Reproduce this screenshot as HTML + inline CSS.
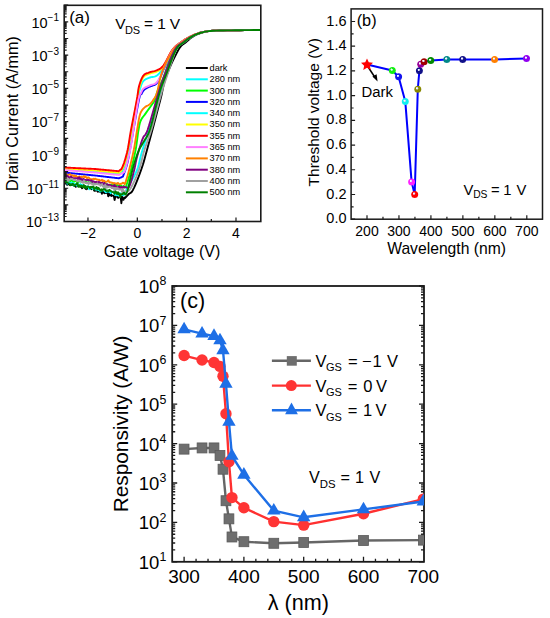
<!DOCTYPE html><html><head><meta charset="utf-8"><style>html,body{margin:0;padding:0;background:#fff;width:550px;height:618px;overflow:hidden;position:relative}</style></head><body><svg width="550" height="618" viewBox="0 0 550 618" style="position:absolute;left:0;top:0">
<defs><clipPath id="ca"><rect x="64.2" y="5.3" width="196.6" height="216.2"/></clipPath></defs>
<g clip-path="url(#ca)" fill="none" stroke-width="1.9" stroke-linejoin="round">
<path d="M64,182.72 L64.79,183.72 L65.58,182.33 L66.36,183.27 L67.15,184.79 L67.94,184.1 L68.73,182.2 L69.52,185.09 L70.3,182.51 L71.09,182.62 L71.88,185 L72.67,184.78 L73.45,185.33 L74.24,185.59 L75.03,185.93 L75.82,186.79 L76.61,185.3 L77.39,185.72 L78.18,185.52 L78.97,185.13 L79.76,185.46 L80.55,186.76 L81.33,186.72 L82.12,188.24 L82.91,186.89 L83.7,186.28 L84.48,185.75 L85.27,188.39 L86.06,189.22 L86.85,188.22 L87.64,188.66 L88.42,187.51 L89.21,187.29 L90,187.93 L90.79,187.15 L91.59,189.2 L92.38,187.11 L93.18,186.66 L93.97,190.39 L94.76,190.88 L95.56,190.32 L96.35,190.52 L97.15,190.5 L97.94,191.78 L98.74,189.63 L99.53,191.58 L100.32,191.94 L101.12,190.93 L101.91,193.84 L102.71,190.22 L103.5,192.34 L104.29,193.25 L105.09,192.68 L105.88,193.01 L106.68,190.69 L107.47,192.27 L108.26,196.26 L109.06,192.7 L109.85,195.38 L110.65,192.87 L111.44,195.97 L112.24,195.6 L113.03,195.41 L113.82,195.96 L114.62,199.94 L115.41,196.17 L116.21,196.27 L117,196.66 L117.73,197.69 L118.45,197.83 L119.18,196.09 L119.91,196.77 L120.64,196.72 L121.36,203.22 L122.09,196.67 L122.82,199.63 L123.55,199.77 L124.27,197.53 L125,198 L125.39,197.58 L125.93,197.01 L126.57,196.33 L127.28,195.58 L128,194.82 L128.7,194.1 L129.35,193.57 L129.98,193.24 L130.63,192.89 L131.34,192.32 L132.15,191.32 L133.1,189.7 L134.25,187.31 L135.58,184.28 L137.01,180.82 L138.46,177.16 L139.85,173.48 L141.1,170 L142.12,167.03 L142.95,164.47 L143.72,161.89 L144.56,158.9 L145.61,155.07 L147,150 L148.88,143.09 L151.17,134.54 L153.68,125.17 L156.17,115.76 L158.45,107.1 L160.3,100 L161.59,94.69 L162.45,90.58 L163.1,87.23 L163.74,84.2 L164.57,81.03 L165.8,77.3 L167.54,72.79 L169.63,67.82 L171.92,62.72 L174.24,57.83 L176.42,53.47 L178.3,50 L179.84,47.55 L181.17,45.9 L182.37,44.78 L183.5,43.96 L184.65,43.18 L185.88,42.2 L187.18,41.05 L188.48,39.92 L189.8,38.84 L191.14,37.82 L192.5,36.87 L193.9,36 L195.33,35.21 L196.78,34.5 L198.26,33.86 L199.77,33.28 L201.33,32.76 L202.92,32.3 L204.44,31.91 L205.86,31.6 L207.32,31.35 L208.96,31.14 L210.91,30.97 L213.32,30.8 L216.25,30.66 L219.59,30.55 L223.25,30.47 L227.13,30.41 L231.12,30.36 L235.12,30.3 L239.5,30.23 L244.4,30.17 L249.42,30.12 L254.14,30.07 L258.14,30.03 L261,30" stroke="#000000"/>
<path d="M64,181.19 L64.79,182.03 L65.58,181.99 L66.36,181.37 L67.15,183.72 L67.94,182.27 L68.73,182.56 L69.52,182.23 L70.3,183.13 L71.09,183.17 L71.88,182.64 L72.67,181.71 L73.45,185.58 L74.24,183.72 L75.03,184.12 L75.82,184.73 L76.61,185.6 L77.39,183.73 L78.18,184.87 L78.97,184.65 L79.76,185.39 L80.55,184.07 L81.33,185.67 L82.12,185.01 L82.91,185.25 L83.7,186.52 L84.48,186.42 L85.27,186.76 L86.06,186.74 L86.85,186.37 L87.64,186.56 L88.42,186.54 L89.21,189.34 L90,187.68 L90.79,188.45 L91.59,187.58 L92.38,188.26 L93.18,188.89 L93.97,188.02 L94.76,188.43 L95.56,189.54 L96.35,188.76 L97.15,190.01 L97.94,189.11 L98.74,190.2 L99.53,189.79 L100.32,191.55 L101.12,190.42 L101.91,190.44 L102.71,189.83 L103.5,189.74 L104.29,190.75 L105.09,191.42 L105.88,192.23 L106.68,190.63 L107.47,191.54 L108.26,191.54 L109.06,191.85 L109.85,191.74 L110.65,193.13 L111.44,192.57 L112.24,191.78 L113.03,191.76 L113.82,193.01 L114.62,194.48 L115.41,194.66 L116.21,195.31 L117,195 L117.78,195.19 L118.56,195.5 L119.33,195.98 L120.11,193.16 L120.89,193.79 L121.67,195.03 L122.44,194.93 L123.22,195.19 L124,194.5 L124.43,193.66 L124.98,192.57 L125.66,191.25 L126.45,189.7 L127.37,187.95 L128.4,186 L129.64,183.81 L131.1,181.37 L132.69,178.72 L134.29,175.91 L135.79,172.98 L137.1,170 L138.07,167.25 L138.75,164.74 L139.34,162.12 L140.04,159.04 L141.02,155.12 L142.5,150 L144.7,142.96 L147.51,134.15 L150.62,124.5 L153.7,114.96 L156.43,106.48 L158.5,100 L159.8,95.81 L160.56,93.22 L160.97,91.69 L161.22,90.67 L161.5,89.62 L162,88 L162.64,86.03 L163.25,84.19 L163.89,82.31 L164.61,80.26 L165.46,77.87 L166.5,75 L167.79,71.33 L169.29,66.92 L170.93,62.18 L172.62,57.5 L174.27,53.31 L175.8,50 L177.2,47.69 L178.54,46.07 L179.84,44.92 L181.14,44.04 L182.46,43.21 L183.85,42.2 L185.29,41.05 L186.77,39.92 L188.27,38.84 L189.8,37.82 L191.35,36.87 L192.9,36 L194.46,35.21 L196.03,34.5 L197.62,33.86 L199.23,33.28 L200.87,32.76 L202.54,32.3 L204.12,31.91 L205.6,31.6 L207.1,31.35 L208.77,31.14 L210.75,30.97 L213.19,30.8 L216.14,30.66 L219.5,30.55 L223.17,30.47 L227.06,30.41 L231.06,30.36 L235.07,30.3 L239.46,30.23 L244.37,30.17 L249.4,30.12 L254.13,30.07 L258.13,30.03 L261,30" stroke="#00FFFF"/>
<path d="M64,179.64 L64.79,180 L65.59,179.18 L66.38,179.59 L67.18,179.44 L67.97,179.53 L68.77,180.35 L69.56,178.84 L70.36,181.05 L71.15,180.52 L71.95,179.44 L72.74,181 L73.54,181.23 L74.33,181.56 L75.13,180.9 L75.92,180.94 L76.72,181.99 L77.51,181.54 L78.31,181.96 L79.1,181.69 L79.9,180.86 L80.69,181.51 L81.49,181.45 L82.28,181.82 L83.08,181.88 L83.87,181.93 L84.67,181.67 L85.46,182.31 L86.26,181.7 L87.05,182.6 L87.85,182.99 L88.64,182.36 L89.44,181.23 L90.23,182.64 L91.03,182.02 L91.82,182.88 L92.62,181.98 L93.41,182.79 L94.21,183.29 L95,182.33 L95.78,183 L96.56,183.32 L97.34,183.26 L98.12,183 L98.91,184.01 L99.69,182.72 L100.47,183.68 L101.25,184.16 L102.03,183.48 L102.81,184.07 L103.59,183.68 L104.38,184.02 L105.16,184.2 L105.94,184.33 L106.72,184.07 L107.5,185.02 L108.28,185.06 L109.06,184.95 L109.84,184.85 L110.62,185.53 L111.41,184.54 L112.19,184.41 L112.97,184.5 L113.75,186.52 L114.53,185.25 L115.31,185.32 L116.09,184.97 L116.88,185.05 L117.66,185.14 L118.44,185.73 L119.22,186.21 L120,185.42 L120.75,186.24 L121.5,185.86 L122.25,187.04 L123,186.98 L123.75,185.98 L124.5,187.65 L125.25,186.69 L126,186.8 L126.54,185.01 L127.28,182.56 L128.16,179.65 L129.1,176.46 L130.04,173.18 L130.9,170 L131.72,166.85 L132.55,163.57 L133.38,160.2 L134.17,156.79 L134.92,153.37 L135.6,150 L136.19,146.55 L136.72,142.94 L137.2,139.34 L137.64,135.89 L138.07,132.73 L138.5,130 L138.89,127.78 L139.22,125.96 L139.54,124.43 L139.88,123.09 L140.28,121.81 L140.8,120.5 L141.42,119.22 L142.12,118.09 L142.89,117.03 L143.71,115.97 L144.58,114.85 L145.5,113.6 L146.52,112.16 L147.67,110.56 L148.87,108.9 L150.04,107.27 L151.11,105.78 L152,104.5 L152.68,103.55 L153.19,102.86 L153.61,102.31 L153.97,101.74 L154.35,101.02 L154.8,100 L155.28,98.69 L155.75,97.19 L156.23,95.53 L156.74,93.76 L157.32,91.9 L158,90 L158.74,88.17 L159.52,86.41 L160.36,84.56 L161.3,82.48 L162.37,80.01 L163.6,77 L165.05,73.09 L166.73,68.33 L168.52,63.18 L170.36,58.1 L172.15,53.55 L173.8,50 L175.29,47.57 L176.68,45.92 L178.03,44.8 L179.37,43.97 L180.75,43.19 L182.22,42.2 L183.78,41.05 L185.4,39.92 L187.05,38.84 L188.73,37.82 L190.42,36.87 L192.1,36 L193.77,35.21 L195.43,34.5 L197.1,33.86 L198.79,33.28 L200.5,32.76 L202.23,32.3 L203.87,31.91 L205.38,31.6 L206.92,31.35 L208.61,31.14 L210.62,30.97 L213.08,30.8 L216.05,30.66 L219.43,30.55 L223.11,30.47 L227,30.41 L231.01,30.36 L235.03,30.3 L239.43,30.23 L244.35,30.17 L249.39,30.12 L254.12,30.07 L258.13,30.03 L261,30" stroke="#00FF00"/>
<path d="M64,172.5 L64.79,172.58 L65.59,172.65 L66.38,172.73 L67.18,172.81 L67.97,172.88 L68.77,172.96 L69.56,173.04 L70.36,173.12 L71.15,173.19 L71.95,173.27 L72.74,173.35 L73.54,173.42 L74.33,173.5 L75.13,173.58 L75.92,173.65 L76.72,173.73 L77.51,173.81 L78.31,173.88 L79.1,173.96 L79.9,174.04 L80.69,174.12 L81.49,174.19 L82.28,174.27 L83.08,174.35 L83.87,174.42 L84.67,174.5 L85.46,174.58 L86.26,174.65 L87.05,174.73 L87.85,174.81 L88.64,174.88 L89.44,174.96 L90.23,175.04 L91.03,175.12 L91.82,175.19 L92.62,175.27 L93.41,175.35 L94.21,175.42 L95,175.5 L95.77,175.59 L96.55,175.68 L97.32,175.77 L98.1,175.86 L98.87,175.95 L99.65,176.04 L100.42,176.13 L101.19,176.22 L101.97,176.31 L102.74,176.4 L103.52,176.49 L104.29,176.58 L105.06,176.67 L105.84,176.76 L106.61,176.85 L107.39,176.95 L108.16,177.04 L108.94,177.13 L109.71,177.22 L110.48,177.31 L111.26,177.4 L112.03,177.49 L112.81,177.58 L113.58,177.67 L114.35,177.76 L115.13,177.85 L115.9,177.94 L116.68,178.03 L117.45,178.12 L118.23,178.21 L119,178.3 L119.78,177.96 L120.56,177.62 L121.34,177.28 L122.12,176.94 L122.9,176.6 L123.35,175.38 L123.97,173.72 L124.71,171.74 L125.49,169.55 L126.24,167.26 L126.9,165 L127.39,163.1 L127.75,161.55 L128.09,159.9 L128.49,157.72 L129.06,154.56 L129.9,150 L131.13,143.18 L132.69,134.3 L134.43,124.44 L136.15,114.7 L137.7,106.19 L138.9,100 L139.7,96.44 L140.23,94.69 L140.58,94.16 L140.84,94.26 L141.12,94.4 L141.5,94 L141.95,93.15 L142.38,92.33 L142.82,91.56 L143.3,90.83 L143.85,90.15 L144.5,89.5 L145.27,88.91 L146.13,88.37 L147.06,87.88 L148.04,87.41 L149.03,86.95 L150,86.5 L150.99,86.09 L152.04,85.76 L153.09,85.44 L154.13,85.07 L155.11,84.61 L156,84 L156.78,83.25 L157.46,82.43 L158.09,81.5 L158.7,80.46 L159.33,79.3 L160,78 L160.68,76.59 L161.32,75.09 L161.98,73.47 L162.7,71.69 L163.52,69.71 L164.5,67.5 L165.66,64.88 L166.97,61.83 L168.39,58.58 L169.87,55.37 L171.35,52.44 L172.8,50 L174.2,48.12 L175.58,46.62 L176.98,45.39 L178.4,44.32 L179.87,43.3 L181.41,42.2 L183.02,41.05 L184.71,39.92 L186.44,38.84 L188.2,37.82 L189.96,36.87 L191.7,36 L193.42,35.21 L195.13,34.5 L196.85,33.86 L198.57,33.28 L200.31,32.76 L202.08,32.3 L203.74,31.91 L205.28,31.6 L206.83,31.35 L208.54,31.14 L210.56,30.97 L213.03,30.8 L216.01,30.66 L219.39,30.55 L223.08,30.47 L226.98,30.41 L230.99,30.36 L235.01,30.3 L239.41,30.23 L244.34,30.17 L249.38,30.12 L254.11,30.07 L258.13,30.03 L261,30" stroke="#0000FF"/>
<path d="M64,169.5 L64.79,169.55 L65.59,169.6 L66.38,169.65 L67.18,169.71 L67.97,169.76 L68.77,169.81 L69.56,169.86 L70.36,169.91 L71.15,169.96 L71.95,170.01 L72.74,170.06 L73.54,170.12 L74.33,170.17 L75.13,170.22 L75.92,170.27 L76.72,170.32 L77.51,170.37 L78.31,170.42 L79.1,170.47 L79.9,170.53 L80.69,170.58 L81.49,170.63 L82.28,170.68 L83.08,170.73 L83.87,170.78 L84.67,170.83 L85.46,170.88 L86.26,170.94 L87.05,170.99 L87.85,171.04 L88.64,171.09 L89.44,171.14 L90.23,171.19 L91.03,171.24 L91.82,171.29 L92.62,171.35 L93.41,171.4 L94.21,171.45 L95,171.5 L95.77,171.56 L96.55,171.63 L97.32,171.69 L98.1,171.76 L98.87,171.82 L99.65,171.89 L100.42,171.95 L101.19,172.02 L101.97,172.08 L102.74,172.15 L103.52,172.21 L104.29,172.27 L105.06,172.34 L105.84,172.4 L106.61,172.47 L107.39,172.53 L108.16,172.6 L108.94,172.66 L109.71,172.73 L110.48,172.79 L111.26,172.85 L112.03,172.92 L112.81,172.98 L113.58,173.05 L114.35,173.11 L115.13,173.18 L115.9,173.24 L116.68,173.31 L117.45,173.37 L118.23,173.44 L119,173.5 L119.75,173 L120.5,172.5 L121.25,172 L122,171.5 L122.32,170.89 L122.76,170.13 L123.27,169.19 L123.84,168.04 L124.43,166.65 L125,165 L125.5,163.4 L125.96,161.93 L126.43,160.22 L126.99,157.91 L127.69,154.62 L128.6,150 L129.85,143.24 L131.41,134.48 L133.12,124.75 L134.81,115.07 L136.33,106.48 L137.5,100 L138.28,95.88 L138.77,93.33 L139.09,91.88 L139.34,91 L139.61,90.21 L140,89 L140.48,87.44 L140.95,85.94 L141.44,84.53 L142,83.22 L142.64,82.04 L143.4,81 L144.31,80.14 L145.35,79.44 L146.48,78.88 L147.65,78.39 L148.84,77.94 L150,77.5 L151.14,77.16 L152.3,76.98 L153.47,76.84 L154.65,76.63 L155.83,76.22 L157,75.5 L158.15,74.49 L159.28,73.3 L160.41,71.91 L161.56,70.31 L162.75,68.52 L164,66.5 L165.33,64.08 L166.72,61.23 L168.15,58.18 L169.6,55.13 L171.06,52.33 L172.5,50 L173.91,48.18 L175.31,46.7 L176.71,45.46 L178.14,44.36 L179.62,43.31 L181.16,42.2 L182.8,41.05 L184.5,39.92 L186.26,38.84 L188.04,37.82 L189.82,36.87 L191.58,36 L193.31,35.21 L195.04,34.5 L196.77,33.86 L198.51,33.28 L200.26,32.76 L202.03,32.3 L203.7,31.91 L205.24,31.6 L206.8,31.35 L208.52,31.14 L210.54,30.97 L213.01,30.8 L215.99,30.66 L219.38,30.55 L223.07,30.47 L226.97,30.41 L230.98,30.36 L235,30.3 L239.41,30.23 L244.34,30.17 L249.38,30.12 L254.11,30.07 L258.13,30.03 L261,30" stroke="#00FFFF"/>
<path d="M64,169 L64.79,169.04 L65.59,169.08 L66.38,169.12 L67.18,169.15 L67.97,169.19 L68.77,169.23 L69.56,169.27 L70.36,169.31 L71.15,169.35 L71.95,169.38 L72.74,169.42 L73.54,169.46 L74.33,169.5 L75.13,169.54 L75.92,169.58 L76.72,169.62 L77.51,169.65 L78.31,169.69 L79.1,169.73 L79.9,169.77 L80.69,169.81 L81.49,169.85 L82.28,169.88 L83.08,169.92 L83.87,169.96 L84.67,170 L85.46,170.04 L86.26,170.08 L87.05,170.12 L87.85,170.15 L88.64,170.19 L89.44,170.23 L90.23,170.27 L91.03,170.31 L91.82,170.35 L92.62,170.38 L93.41,170.42 L94.21,170.46 L95,170.5 L95.77,170.57 L96.55,170.65 L97.32,170.72 L98.1,170.8 L98.87,170.87 L99.65,170.95 L100.42,171.02 L101.19,171.09 L101.97,171.17 L102.74,171.24 L103.52,171.32 L104.29,171.39 L105.06,171.46 L105.84,171.54 L106.61,171.61 L107.39,171.69 L108.16,171.76 L108.94,171.84 L109.71,171.91 L110.48,171.98 L111.26,172.06 L112.03,172.13 L112.81,172.21 L113.58,172.28 L114.35,172.35 L115.13,172.43 L115.9,172.5 L116.68,172.58 L117.45,172.65 L118.23,172.73 L119,172.8 L119.62,172.23 L120.25,171.65 L120.88,171.07 L121.5,170.5 L121.82,169.88 L122.26,169.09 L122.78,168.12 L123.35,166.96 L123.94,165.59 L124.5,164 L124.99,162.52 L125.43,161.22 L125.88,159.72 L126.41,157.61 L127.09,154.5 L128,150 L129.26,143.32 L130.83,134.63 L132.56,124.94 L134.28,115.26 L135.81,106.61 L137,100 L137.78,95.66 L138.26,92.81 L138.56,91 L138.8,89.74 L139.07,88.56 L139.5,87 L140.05,85.08 L140.63,83.2 L141.25,81.41 L141.93,79.74 L142.67,78.26 L143.5,77 L144.43,76.02 L145.46,75.3 L146.56,74.75 L147.7,74.31 L148.86,73.92 L150,73.5 L151.14,73.12 L152.31,72.85 L153.49,72.62 L154.68,72.37 L155.85,72.02 L157,71.5 L158.1,70.91 L159.15,70.31 L160.19,69.62 L161.26,68.74 L162.38,67.56 L163.6,66 L164.93,63.85 L166.34,61.14 L167.82,58.14 L169.32,55.11 L170.83,52.31 L172.3,50 L173.73,48.21 L175.13,46.73 L176.54,45.49 L177.97,44.38 L179.45,43.31 L181,42.2 L182.65,41.05 L184.37,39.92 L186.14,38.84 L187.93,37.82 L189.73,36.87 L191.5,36 L193.24,35.21 L194.98,34.5 L196.72,33.86 L198.46,33.28 L200.22,32.76 L202,32.3 L203.68,31.91 L205.22,31.6 L206.78,31.35 L208.5,31.14 L210.52,30.97 L213,30.8 L215.98,30.66 L219.37,30.55 L223.06,30.47 L226.96,30.41 L230.97,30.36 L235,30.3 L239.4,30.23 L244.33,30.17 L249.38,30.12 L254.11,30.07 L258.12,30.03 L261,30" stroke="#FFFF00"/>
<path d="M64,167.5 L64.79,167.54 L65.59,167.58 L66.38,167.62 L67.18,167.65 L67.97,167.69 L68.77,167.73 L69.56,167.77 L70.36,167.81 L71.15,167.85 L71.95,167.88 L72.74,167.92 L73.54,167.96 L74.33,168 L75.13,168.04 L75.92,168.08 L76.72,168.12 L77.51,168.15 L78.31,168.19 L79.1,168.23 L79.9,168.27 L80.69,168.31 L81.49,168.35 L82.28,168.38 L83.08,168.42 L83.87,168.46 L84.67,168.5 L85.46,168.54 L86.26,168.58 L87.05,168.62 L87.85,168.65 L88.64,168.69 L89.44,168.73 L90.23,168.77 L91.03,168.81 L91.82,168.85 L92.62,168.88 L93.41,168.92 L94.21,168.96 L95,169 L95.78,169.07 L96.57,169.15 L97.35,169.22 L98.13,169.29 L98.92,169.37 L99.7,169.44 L100.48,169.51 L101.27,169.59 L102.05,169.66 L102.83,169.73 L103.62,169.81 L104.4,169.88 L105.18,169.95 L105.97,170.03 L106.75,170.1 L107.53,170.17 L108.32,170.25 L109.1,170.32 L109.88,170.39 L110.67,170.47 L111.45,170.54 L112.23,170.61 L113.02,170.69 L113.8,170.76 L114.58,170.83 L115.37,170.91 L116.15,170.98 L116.93,171.05 L117.72,171.13 L118.5,171.2 L119.25,170.65 L120,170.1 L120.75,169.55 L121.5,169 L121.76,168.43 L122.11,167.7 L122.52,166.81 L122.99,165.74 L123.49,164.47 L124,163 L124.54,161.32 L125.13,159.44 L125.74,157.38 L126.37,155.11 L127,152.65 L127.6,150 L128.15,147.19 L128.66,144.22 L129.16,141.06 L129.7,137.67 L130.3,133.99 L131,130 L131.87,125.39 L132.89,120.15 L133.97,114.62 L135.04,109.19 L136.01,104.19 L136.8,100 L137.36,96.7 L137.75,94.01 L138.04,91.77 L138.31,89.81 L138.64,87.94 L139.1,86 L139.68,83.98 L140.32,82 L141.02,80.12 L141.77,78.4 L142.56,76.87 L143.4,75.6 L144.28,74.64 L145.21,73.96 L146.19,73.49 L147.21,73.13 L148.28,72.79 L149.4,72.4 L150.6,72.01 L151.89,71.69 L153.22,71.41 L154.56,71.1 L155.87,70.71 L157.1,70.2 L158.23,69.66 L159.27,69.15 L160.29,68.57 L161.31,67.8 L162.4,66.75 L163.6,65.3 L164.92,63.27 L166.34,60.69 L167.81,57.83 L169.32,54.93 L170.82,52.24 L172.3,50 L173.73,48.25 L175.13,46.79 L176.54,45.53 L177.97,44.4 L179.45,43.32 L181,42.2 L182.65,41.05 L184.37,39.92 L186.14,38.84 L187.93,37.82 L189.73,36.87 L191.5,36 L193.24,35.21 L194.98,34.5 L196.72,33.86 L198.46,33.28 L200.22,32.76 L202,32.3 L203.68,31.91 L205.22,31.6 L206.78,31.35 L208.5,31.14 L210.52,30.97 L213,30.8 L215.98,30.66 L219.37,30.55 L223.06,30.47 L226.96,30.41 L230.97,30.36 L235,30.3 L239.4,30.23 L244.33,30.17 L249.38,30.12 L254.11,30.07 L258.12,30.03 L261,30" stroke="#FF0000"/>
<path d="M64,170 L64.79,170.06 L65.59,170.13 L66.38,170.19 L67.18,170.26 L67.97,170.32 L68.77,170.38 L69.56,170.45 L70.36,170.51 L71.15,170.58 L71.95,170.64 L72.74,170.71 L73.54,170.77 L74.33,170.83 L75.13,170.9 L75.92,170.96 L76.72,171.03 L77.51,171.09 L78.31,171.15 L79.1,171.22 L79.9,171.28 L80.69,171.35 L81.49,171.41 L82.28,171.47 L83.08,171.54 L83.87,171.6 L84.67,171.67 L85.46,171.73 L86.26,171.79 L87.05,171.86 L87.85,171.92 L88.64,171.99 L89.44,172.05 L90.23,172.12 L91.03,172.18 L91.82,172.24 L92.62,172.31 L93.41,172.37 L94.21,172.44 L95,172.5 L95.77,172.58 L96.55,172.66 L97.32,172.74 L98.1,172.82 L98.87,172.9 L99.65,172.98 L100.42,173.06 L101.19,173.15 L101.97,173.23 L102.74,173.31 L103.52,173.39 L104.29,173.47 L105.06,173.55 L105.84,173.63 L106.61,173.71 L107.39,173.79 L108.16,173.87 L108.94,173.95 L109.71,174.03 L110.48,174.11 L111.26,174.19 L112.03,174.27 L112.81,174.35 L113.58,174.44 L114.35,174.52 L115.13,174.6 L115.9,174.68 L116.68,174.76 L117.45,174.84 L118.23,174.92 L119,175 L119.7,174.6 L120.4,174.2 L121.1,173.8 L121.8,173.4 L122.5,173 L122.75,172.87 L123.08,172.85 L123.48,172.75 L123.95,172.37 L124.49,171.52 L125.1,170 L125.83,167.65 L126.68,164.59 L127.61,161.06 L128.54,157.3 L129.43,153.53 L130.2,150 L130.84,146.78 L131.37,143.7 L131.86,140.62 L132.35,137.41 L132.88,133.91 L133.5,130 L134.25,125.31 L135.1,119.89 L135.99,114.19 L136.88,108.67 L137.7,103.78 L138.4,100 L138.97,97.47 L139.44,95.87 L139.85,94.9 L140.23,94.29 L140.6,93.75 L141,93 L141.38,92.1 L141.69,91.3 L142.01,90.56 L142.37,89.88 L142.85,89.23 L143.5,88.6 L144.36,87.99 L145.39,87.41 L146.53,86.87 L147.72,86.36 L148.9,85.87 L150,85.4 L151.05,85 L152.11,84.67 L153.16,84.38 L154.17,84.04 L155.12,83.6 L156,83 L156.78,82.25 L157.48,81.4 L158.12,80.44 L158.74,79.39 L159.36,78.24 L160,77 L160.61,75.71 L161.16,74.39 L161.7,72.97 L162.31,71.39 L163.06,69.59 L164,67.5 L165.19,64.93 L166.58,61.9 L168.11,58.64 L169.7,55.41 L171.29,52.45 L172.8,50 L174.23,48.12 L175.62,46.62 L177.01,45.39 L178.42,44.32 L179.88,43.3 L181.41,42.2 L183.02,41.05 L184.71,39.92 L186.44,38.84 L188.2,37.82 L189.96,36.87 L191.7,36 L193.42,35.21 L195.13,34.5 L196.85,33.86 L198.57,33.28 L200.31,32.76 L202.08,32.3 L203.74,31.91 L205.28,31.6 L206.83,31.35 L208.54,31.14 L210.56,30.97 L213.03,30.8 L216.01,30.66 L219.39,30.55 L223.08,30.47 L226.98,30.41 L230.99,30.36 L235.01,30.3 L239.41,30.23 L244.34,30.17 L249.38,30.12 L254.11,30.07 L258.13,30.03 L261,30" stroke="#FF80FF"/>
<path d="M64,173.41 L64.79,174.87 L65.59,174.58 L66.38,174.31 L67.18,175.31 L67.97,175.21 L68.77,174.68 L69.56,174.56 L70.36,174.25 L71.15,175.4 L71.95,175.41 L72.74,175.2 L73.54,176.14 L74.33,175.58 L75.13,176.53 L75.92,175.77 L76.72,176.63 L77.51,176.95 L78.31,177.02 L79.1,176.52 L79.9,176.53 L80.69,177.22 L81.49,176.71 L82.28,177.27 L83.08,176.96 L83.87,176 L84.67,177.15 L85.46,176.43 L86.26,177.53 L87.05,178.18 L87.85,177.5 L88.64,177.57 L89.44,178.23 L90.23,179.33 L91.03,179.23 L91.82,179.31 L92.62,179.39 L93.41,178.63 L94.21,179.33 L95,178.6 L95.78,178.91 L96.56,179.53 L97.34,179.54 L98.12,179.97 L98.91,179.63 L99.69,180.11 L100.47,180.54 L101.25,180.52 L102.03,179.76 L102.81,181.26 L103.59,180.48 L104.38,180.89 L105.16,182.15 L105.94,181.58 L106.72,181.75 L107.5,181.41 L108.28,180.31 L109.06,181.61 L109.84,182.57 L110.62,182.3 L111.41,182.57 L112.19,182.64 L112.97,183.65 L113.75,182.96 L114.53,183.16 L115.31,183.37 L116.09,183.42 L116.88,184 L117.66,183 L118.44,183.21 L119.22,184.32 L120,184.25 L120.79,183.73 L121.57,183.8 L122.36,183.1 L123.14,182.71 L123.93,183.25 L124.71,184.19 L125.5,182.5 L125.88,181.23 L126.39,179.54 L127.01,177.5 L127.69,175.19 L128.39,172.66 L129.1,170 L129.84,167.1 L130.64,163.89 L131.47,160.47 L132.3,156.94 L133.08,153.42 L133.8,150 L134.43,146.62 L135.01,143.18 L135.56,139.74 L136.07,136.36 L136.58,133.09 L137.1,130 L137.6,127.02 L138.07,124.08 L138.54,121.26 L139.01,118.63 L139.53,116.25 L140.1,114.2 L140.73,112.53 L141.41,111.19 L142.13,110.11 L142.87,109.2 L143.63,108.39 L144.4,107.6 L145.21,106.9 L146.06,106.36 L146.93,105.92 L147.8,105.51 L148.63,105.06 L149.4,104.5 L150.1,103.87 L150.76,103.21 L151.38,102.53 L151.98,101.77 L152.58,100.94 L153.2,100 L153.81,99.09 L154.4,98.25 L154.99,97.33 L155.61,96.17 L156.27,94.61 L157,92.5 L157.76,89.68 L158.51,86.25 L159.31,82.43 L160.21,78.41 L161.26,74.44 L162.5,70.7 L164.02,67.04 L165.79,63.24 L167.71,59.48 L169.67,55.9 L171.57,52.69 L173.3,50 L174.83,47.93 L176.25,46.39 L177.6,45.19 L178.94,44.2 L180.33,43.26 L181.81,42.2 L183.4,41.05 L185.05,39.92 L186.75,38.84 L188.47,37.82 L190.19,36.87 L191.9,36 L193.59,35.21 L195.28,34.5 L196.98,33.86 L198.68,33.28 L200.41,32.76 L202.15,32.3 L203.8,31.91 L205.33,31.6 L206.87,31.35 L208.58,31.14 L210.59,30.97 L213.05,30.8 L216.03,30.66 L219.41,30.55 L223.09,30.47 L226.99,30.41 L231,30.36 L235.02,30.3 L239.42,30.23 L244.34,30.17 L249.38,30.12 L254.12,30.07 L258.13,30.03 L261,30" stroke="#FF8000"/>
<path d="M64,175.91 L64.79,176.29 L65.59,176.41 L66.38,176.95 L67.18,175.54 L67.97,176.97 L68.77,177.06 L69.56,177.86 L70.36,176.79 L71.15,176.55 L71.95,177.61 L72.74,177.69 L73.54,179 L74.33,178.14 L75.13,178.3 L75.92,178.29 L76.72,178.4 L77.51,178.08 L78.31,179.51 L79.1,177.25 L79.9,179.18 L80.69,178.54 L81.49,179.17 L82.28,180.27 L83.08,178.9 L83.87,179.13 L84.67,179.88 L85.46,179.83 L86.26,180.1 L87.05,179.93 L87.85,179.88 L88.64,179.98 L89.44,180.5 L90.23,180.83 L91.03,180.41 L91.82,180.53 L92.62,182.46 L93.41,181.32 L94.21,181.96 L95,181.85 L95.78,182.15 L96.56,181.99 L97.34,182.21 L98.12,183.22 L98.91,181.71 L99.69,183.1 L100.47,182.59 L101.25,183 L102.03,183.04 L102.81,183.01 L103.59,184.59 L104.38,182.88 L105.16,185.11 L105.94,184.27 L106.72,184.84 L107.5,184.33 L108.28,184.76 L109.06,185.21 L109.84,184.88 L110.62,185.84 L111.41,185.55 L112.19,187.93 L112.97,185.85 L113.75,185.98 L114.53,184.94 L115.31,187.16 L116.09,186.35 L116.88,188.33 L117.66,187.37 L118.44,186.74 L119.22,186.27 L120,188.9 L120.75,187.11 L121.5,186.88 L122.25,187.79 L123,187.81 L123.75,186.59 L124.5,187.09 L125.25,187.17 L126,187.5 L126.37,187.52 L126.86,187.68 L127.46,187.81 L128.11,187.71 L128.81,187.2 L129.5,186.1 L130.24,184.21 L131.07,181.63 L131.93,178.65 L132.77,175.53 L133.54,172.56 L134.2,170 L134.7,167.91 L135.08,166.07 L135.39,164.37 L135.7,162.7 L136.05,160.95 L136.5,159 L137.08,156.77 L137.75,154.32 L138.47,151.79 L139.19,149.31 L139.88,147 L140.5,145 L141.02,143.35 L141.47,141.95 L141.88,140.73 L142.3,139.6 L142.76,138.49 L143.3,137.3 L143.88,136.32 L144.46,135.68 L145.08,135.04 L145.78,134.1 L146.61,132.53 L147.6,130 L148.87,126.11 L150.39,121.01 L152.04,115.29 L153.69,109.51 L155.18,104.22 L156.4,100 L157.28,96.98 L157.93,94.74 L158.44,93 L158.89,91.48 L159.38,89.91 L160,88 L160.7,85.9 L161.39,83.85 L162.11,81.75 L162.93,79.48 L163.87,76.94 L165,74 L166.37,70.39 L167.97,66.14 L169.7,61.61 L171.47,57.17 L173.2,53.18 L174.8,50 L176.25,47.74 L177.61,46.14 L178.94,44.99 L180.26,44.08 L181.61,43.22 L183.03,42.2 L184.53,41.05 L186.08,39.92 L187.66,38.84 L189.27,37.82 L190.88,36.87 L192.5,36 L194.11,35.21 L195.73,34.5 L197.36,33.86 L199.01,33.28 L200.68,32.76 L202.38,32.3 L204,31.91 L205.49,31.6 L207.01,31.35 L208.69,31.14 L210.69,30.97 L213.13,30.8 L216.09,30.66 L219.46,30.55 L223.14,30.47 L227.03,30.41 L231.03,30.36 L235.05,30.3 L239.44,30.23 L244.36,30.17 L249.39,30.12 L254.12,30.07 L258.13,30.03 L261,30" stroke="#800080"/>
<path d="M64,178.57 L64.79,178.32 L65.59,178.79 L66.38,179.22 L67.18,178.02 L67.97,181.22 L68.77,179.31 L69.56,179.83 L70.36,179.41 L71.15,178.92 L71.95,179.03 L72.74,179.22 L73.54,179.98 L74.33,179.98 L75.13,179.76 L75.92,180.3 L76.72,180.77 L77.51,181.51 L78.31,180.4 L79.1,180.84 L79.9,180.73 L80.69,181.43 L81.49,181.98 L82.28,181.72 L83.08,182.85 L83.87,180.51 L84.67,182.55 L85.46,182.67 L86.26,183.16 L87.05,182.26 L87.85,182.64 L88.64,184.27 L89.44,182.09 L90.23,182.51 L91.03,183.64 L91.82,183.86 L92.62,184.32 L93.41,183.27 L94.21,184.14 L95,184.64 L95.79,183.88 L96.57,184.23 L97.36,183.38 L98.14,184.28 L98.93,184.52 L99.71,184.18 L100.5,185.8 L101.29,185.08 L102.07,184.05 L102.86,186.42 L103.64,186.19 L104.43,190.09 L105.21,184.76 L106,186.94 L106.79,187.73 L107.57,186.69 L108.36,187.03 L109.14,186.71 L109.93,186.6 L110.71,187.2 L111.5,187.72 L112.29,187.36 L113.07,188.22 L113.86,187.75 L114.64,191.94 L115.43,188.04 L116.21,189.27 L117,187.86 L117.74,188.93 L118.48,188.54 L119.22,189.65 L119.96,189.25 L120.7,189.21 L121.44,190.21 L122.18,192.15 L122.92,189.19 L123.66,192.7 L124.4,191.5 L125,191.42 L125.8,191.46 L126.76,191.44 L127.84,191.15 L129,190.4 L130.2,189 L131.52,186.8 L133,183.93 L134.57,180.59 L136.13,177.02 L137.6,173.42 L138.9,170 L139.99,166.72 L140.92,163.41 L141.76,160.06 L142.58,156.7 L143.44,153.34 L144.4,150 L145.45,146.78 L146.55,143.7 L147.68,140.62 L148.85,137.41 L150.06,133.91 L151.3,130 L152.65,125.37 L154.11,120.07 L155.61,114.5 L157.07,109.04 L158.39,104.07 L159.5,100 L160.35,96.96 L161,94.67 L161.51,92.88 L161.97,91.33 L162.44,89.79 L163,88 L163.58,86.16 L164.11,84.52 L164.65,82.88 L165.27,81.04 L166.03,78.81 L167,76 L168.23,72.27 L169.7,67.7 L171.3,62.74 L172.96,57.84 L174.59,53.44 L176.1,50 L177.49,47.63 L178.81,45.99 L180.11,44.86 L181.4,44.01 L182.72,43.2 L184.09,42.2 L185.52,41.05 L186.97,39.92 L188.46,38.84 L189.96,37.82 L191.48,36.87 L193.02,36 L194.56,35.21 L196.12,34.5 L197.7,33.86 L199.29,33.28 L200.92,32.76 L202.58,32.3 L204.16,31.91 L205.63,31.6 L207.12,31.35 L208.79,31.14 L210.77,30.97 L213.2,30.8 L216.15,30.66 L219.51,30.55 L223.18,30.47 L227.07,30.41 L231.07,30.36 L235.08,30.3 L239.46,30.23 L244.38,30.17 L249.41,30.12 L254.13,30.07 L258.13,30.03 L261,30" stroke="#A0A0A0"/>
<path d="M64,182.95 L64.79,181.32 L65.59,182.35 L66.38,182.02 L67.18,182.55 L67.97,183.01 L68.77,183.43 L69.56,183.64 L70.36,185.3 L71.15,184.25 L71.95,184.92 L72.74,183.66 L73.54,184.38 L74.33,185.7 L75.13,184.83 L75.92,184.82 L76.72,183.59 L77.51,183.15 L78.31,186.73 L79.1,186.79 L79.9,185.28 L80.69,186.61 L81.49,185.47 L82.28,186.63 L83.08,187.39 L83.87,185.04 L84.67,187.51 L85.46,186.02 L86.26,188.25 L87.05,187.18 L87.85,186.4 L88.64,186.76 L89.44,187.26 L90.23,188.53 L91.03,186.71 L91.82,187.54 L92.62,187.1 L93.41,186.44 L94.21,189.41 L95,188.34 L95.79,187.85 L96.58,186.94 L97.37,189.59 L98.16,187.84 L98.95,188.4 L99.74,189.73 L100.53,190.63 L101.32,189.3 L102.11,190.91 L102.9,189.36 L103.69,189.1 L104.48,189.21 L105.27,189.46 L106.06,190.81 L106.85,191.03 L107.64,190.38 L108.43,191.2 L109.22,189.86 L110.01,190.5 L110.79,190.81 L111.58,191.58 L112.37,191.93 L113.16,192.19 L113.95,192.2 L114.74,193.74 L115.53,191.48 L116.32,192.15 L117.11,194.15 L117.9,192.21 L118.69,194.17 L119.48,193.5 L120.27,197.12 L121.06,194.12 L121.85,194.08 L122.64,194.35 L123.43,192.86 L124.22,192.76 L125.01,194.24 L125.8,194.5 L126.01,194.06 L126.29,193.57 L126.62,192.94 L127.02,192.04 L127.48,190.76 L128,189 L128.59,186.61 L129.25,183.64 L129.97,180.29 L130.75,176.77 L131.56,173.28 L132.4,170 L133.29,166.82 L134.26,163.55 L135.26,160.3 L136.27,157.19 L137.26,154.31 L138.2,151.8 L139.07,149.76 L139.9,148.13 L140.71,146.74 L141.52,145.43 L142.38,144.04 L143.3,142.4 L144.29,140.71 L145.31,139.14 L146.38,137.49 L147.49,135.55 L148.63,133.12 L149.8,130 L151.08,125.81 L152.47,120.64 L153.89,114.97 L155.28,109.32 L156.54,104.16 L157.6,100 L158.4,96.97 L159,94.7 L159.47,92.94 L159.91,91.41 L160.39,89.85 L161,88 L161.69,86.03 L162.37,84.19 L163.1,82.31 L163.92,80.26 L164.87,77.87 L166,75 L167.38,71.33 L168.98,66.92 L170.71,62.18 L172.49,57.5 L174.21,53.31 L175.8,50 L177.23,47.69 L178.57,46.07 L179.87,44.92 L181.15,44.04 L182.47,43.21 L183.85,42.2 L185.29,41.05 L186.77,39.92 L188.27,38.84 L189.8,37.82 L191.35,36.87 L192.9,36 L194.46,35.21 L196.03,34.5 L197.62,33.86 L199.23,33.28 L200.87,32.76 L202.54,32.3 L204.12,31.91 L205.6,31.6 L207.1,31.35 L208.77,31.14 L210.75,30.97 L213.19,30.8 L216.14,30.66 L219.5,30.55 L223.17,30.47 L227.06,30.41 L231.06,30.36 L235.07,30.3 L239.46,30.23 L244.37,30.17 L249.4,30.12 L254.13,30.07 L258.13,30.03 L261,30" stroke="#008000"/>
</g>
<rect x="64.2" y="5.3" width="196.60000000000002" height="216.2" fill="none" stroke="#1a1a1a" stroke-width="1.6"/>
<path d="M64.2,5.2 h4 M64.2,16.83 h2.5 M64.2,13.9 h2.5 M64.2,11.82 h2.5 M64.2,10.21 h2.5 M64.2,8.89 h2.5 M64.2,7.78 h2.5 M64.2,6.81 h2.5 M64.2,5.96 h2.5 M64.2,21.84 h4 M64.2,33.47 h2.5 M64.2,30.54 h2.5 M64.2,28.46 h2.5 M64.2,26.85 h2.5 M64.2,25.53 h2.5 M64.2,24.42 h2.5 M64.2,23.45 h2.5 M64.2,22.6 h2.5 M64.2,38.48 h4 M64.2,50.11 h2.5 M64.2,47.18 h2.5 M64.2,45.1 h2.5 M64.2,43.49 h2.5 M64.2,42.17 h2.5 M64.2,41.06 h2.5 M64.2,40.09 h2.5 M64.2,39.24 h2.5 M64.2,55.12 h4 M64.2,66.75 h2.5 M64.2,63.82 h2.5 M64.2,61.74 h2.5 M64.2,60.13 h2.5 M64.2,58.81 h2.5 M64.2,57.7 h2.5 M64.2,56.73 h2.5 M64.2,55.88 h2.5 M64.2,71.76 h4 M64.2,83.39 h2.5 M64.2,80.46 h2.5 M64.2,78.38 h2.5 M64.2,76.77 h2.5 M64.2,75.45 h2.5 M64.2,74.34 h2.5 M64.2,73.37 h2.5 M64.2,72.52 h2.5 M64.2,88.4 h4 M64.2,100.03 h2.5 M64.2,97.1 h2.5 M64.2,95.02 h2.5 M64.2,93.41 h2.5 M64.2,92.09 h2.5 M64.2,90.98 h2.5 M64.2,90.01 h2.5 M64.2,89.16 h2.5 M64.2,105.04 h4 M64.2,116.67 h2.5 M64.2,113.74 h2.5 M64.2,111.66 h2.5 M64.2,110.05 h2.5 M64.2,108.73 h2.5 M64.2,107.62 h2.5 M64.2,106.65 h2.5 M64.2,105.8 h2.5 M64.2,121.68 h4 M64.2,133.31 h2.5 M64.2,130.38 h2.5 M64.2,128.3 h2.5 M64.2,126.69 h2.5 M64.2,125.37 h2.5 M64.2,124.26 h2.5 M64.2,123.29 h2.5 M64.2,122.44 h2.5 M64.2,138.32 h4 M64.2,149.95 h2.5 M64.2,147.02 h2.5 M64.2,144.94 h2.5 M64.2,143.33 h2.5 M64.2,142.01 h2.5 M64.2,140.9 h2.5 M64.2,139.93 h2.5 M64.2,139.08 h2.5 M64.2,154.96 h4 M64.2,166.59 h2.5 M64.2,163.66 h2.5 M64.2,161.58 h2.5 M64.2,159.97 h2.5 M64.2,158.65 h2.5 M64.2,157.54 h2.5 M64.2,156.57 h2.5 M64.2,155.72 h2.5 M64.2,171.6 h4 M64.2,183.23 h2.5 M64.2,180.3 h2.5 M64.2,178.22 h2.5 M64.2,176.61 h2.5 M64.2,175.29 h2.5 M64.2,174.18 h2.5 M64.2,173.21 h2.5 M64.2,172.36 h2.5 M64.2,188.24 h4 M64.2,199.87 h2.5 M64.2,196.94 h2.5 M64.2,194.86 h2.5 M64.2,193.25 h2.5 M64.2,191.93 h2.5 M64.2,190.82 h2.5 M64.2,189.85 h2.5 M64.2,189 h2.5 M64.2,204.88 h4 M64.2,216.51 h2.5 M64.2,213.58 h2.5 M64.2,211.5 h2.5 M64.2,209.89 h2.5 M64.2,208.57 h2.5 M64.2,207.46 h2.5 M64.2,206.49 h2.5 M64.2,205.64 h2.5 M64.2,221.52 h4 M87.97,221.5 v-4 M137.31,221.5 v-4 M186.65,221.5 v-4 M235.99,221.5 v-4 M112.64,221.5 v-2.5 M161.98,221.5 v-2.5 M211.32,221.5 v-2.5" stroke="#1a1a1a" stroke-width="1.2" fill="none"/>
<text x="59" y="27.64" font-family="Liberation Sans, sans-serif" font-size="14.5" text-anchor="end" fill="#000">10<tspan font-size="10" dy="-6.2">−1</tspan></text>
<text x="59" y="60.92" font-family="Liberation Sans, sans-serif" font-size="14.5" text-anchor="end" fill="#000">10<tspan font-size="10" dy="-6.2">−3</tspan></text>
<text x="59" y="94.2" font-family="Liberation Sans, sans-serif" font-size="14.5" text-anchor="end" fill="#000">10<tspan font-size="10" dy="-6.2">−5</tspan></text>
<text x="59" y="127.48" font-family="Liberation Sans, sans-serif" font-size="14.5" text-anchor="end" fill="#000">10<tspan font-size="10" dy="-6.2">−7</tspan></text>
<text x="59" y="160.76" font-family="Liberation Sans, sans-serif" font-size="14.5" text-anchor="end" fill="#000">10<tspan font-size="10" dy="-6.2">−9</tspan></text>
<text x="59" y="194.04" font-family="Liberation Sans, sans-serif" font-size="14.5" text-anchor="end" fill="#000">10<tspan font-size="10" dy="-6.2">−11</tspan></text>
<text x="59" y="227.32" font-family="Liberation Sans, sans-serif" font-size="14.5" text-anchor="end" fill="#000">10<tspan font-size="10" dy="-6.2">−13</tspan></text>
<text x="87.97" y="238.3" font-family="Liberation Sans, sans-serif" font-size="14" text-anchor="middle">−2</text>
<text x="137.31" y="238.3" font-family="Liberation Sans, sans-serif" font-size="14" text-anchor="middle">0</text>
<text x="186.65" y="238.3" font-family="Liberation Sans, sans-serif" font-size="14" text-anchor="middle">2</text>
<text x="235.99" y="238.3" font-family="Liberation Sans, sans-serif" font-size="14" text-anchor="middle">4</text>
<text x="162" y="256.6" font-family="Liberation Sans, sans-serif" font-size="16" text-anchor="middle">Gate voltage (V)</text>
<text transform="translate(17.8,113.6) rotate(-90)" x="0" y="0" font-family="Liberation Sans, sans-serif" font-size="16.2" text-anchor="middle">Drain Current (A/mm)</text>
<text x="69.2" y="23" font-family="Liberation Sans, sans-serif" font-size="17">(a)</text>
<text y="29.2" font-family="Liberation Sans, sans-serif" font-size="15.5"><tspan x="115.3">V</tspan><tspan x="124.9" y="33.5" font-size="11">DS</tspan><tspan x="143.9" y="29.2">=</tspan><tspan x="157.2">1</tspan><tspan x="169.7">V</tspan></text>
<path d="M185.9,68 H207.8" stroke="#000000" stroke-width="2"/>
<text x="209.6" y="70.9" font-family="Liberation Sans, sans-serif" font-size="9.2">dark</text>
<path d="M185.9,79.3 H207.8" stroke="#00FFFF" stroke-width="2"/>
<text x="209.6" y="82.2" font-family="Liberation Sans, sans-serif" font-size="9.2">280 nm</text>
<path d="M185.9,90.6 H207.8" stroke="#00FF00" stroke-width="2"/>
<text x="209.6" y="93.5" font-family="Liberation Sans, sans-serif" font-size="9.2">300 nm</text>
<path d="M185.9,101.9 H207.8" stroke="#0000FF" stroke-width="2"/>
<text x="209.6" y="104.8" font-family="Liberation Sans, sans-serif" font-size="9.2">320 nm</text>
<path d="M185.9,113.2 H207.8" stroke="#00FFFF" stroke-width="2"/>
<text x="209.6" y="116.1" font-family="Liberation Sans, sans-serif" font-size="9.2">340 nm</text>
<path d="M185.9,124.5 H207.8" stroke="#FFFF00" stroke-width="2"/>
<text x="209.6" y="127.4" font-family="Liberation Sans, sans-serif" font-size="9.2">350 nm</text>
<path d="M185.9,135.8 H207.8" stroke="#FF0000" stroke-width="2"/>
<text x="209.6" y="138.7" font-family="Liberation Sans, sans-serif" font-size="9.2">355 nm</text>
<path d="M185.9,147.1 H207.8" stroke="#FF80FF" stroke-width="2"/>
<text x="209.6" y="150" font-family="Liberation Sans, sans-serif" font-size="9.2">365 nm</text>
<path d="M185.9,158.4 H207.8" stroke="#FF8000" stroke-width="2"/>
<text x="209.6" y="161.3" font-family="Liberation Sans, sans-serif" font-size="9.2">370 nm</text>
<path d="M185.9,169.7 H207.8" stroke="#800080" stroke-width="2"/>
<text x="209.6" y="172.6" font-family="Liberation Sans, sans-serif" font-size="9.2">380 nm</text>
<path d="M185.9,181 H207.8" stroke="#A0A0A0" stroke-width="2"/>
<text x="209.6" y="183.9" font-family="Liberation Sans, sans-serif" font-size="9.2">400 nm</text>
<path d="M185.9,192.3 H207.8" stroke="#008000" stroke-width="2"/>
<text x="209.6" y="195.2" font-family="Liberation Sans, sans-serif" font-size="9.2">500 nm</text>
<rect x="351.1" y="8.9" width="191.39999999999998" height="210.29999999999998" fill="none" stroke="#1a1a1a" stroke-width="1.5"/>
<path d="M351.1,219.2 h4 M351.1,206.84 h2.5 M351.1,194.49 h4 M351.1,182.13 h2.5 M351.1,169.77 h4 M351.1,157.41 h2.5 M351.1,145.06 h4 M351.1,132.7 h2.5 M351.1,120.34 h4 M351.1,107.99 h2.5 M351.1,95.63 h4 M351.1,83.27 h2.5 M351.1,70.92 h4 M351.1,58.56 h2.5 M351.1,46.2 h4 M351.1,33.84 h2.5 M351.1,21.49 h4 M367,219.2 v-4 M382.98,219.2 v-2.5 M398.96,219.2 v-4 M414.94,219.2 v-2.5 M430.92,219.2 v-4 M446.9,219.2 v-2.5 M462.88,219.2 v-4 M478.86,219.2 v-2.5 M494.84,219.2 v-4 M510.82,219.2 v-2.5 M526.8,219.2 v-4" stroke="#1a1a1a" stroke-width="1.2" fill="none"/>
<text x="346.5" y="223.3" font-family="Liberation Sans, sans-serif" font-size="14.5" text-anchor="end">0.0</text>
<text x="346.5" y="198.59" font-family="Liberation Sans, sans-serif" font-size="14.5" text-anchor="end">0.2</text>
<text x="346.5" y="173.87" font-family="Liberation Sans, sans-serif" font-size="14.5" text-anchor="end">0.4</text>
<text x="346.5" y="149.16" font-family="Liberation Sans, sans-serif" font-size="14.5" text-anchor="end">0.6</text>
<text x="346.5" y="124.44" font-family="Liberation Sans, sans-serif" font-size="14.5" text-anchor="end">0.8</text>
<text x="346.5" y="99.73" font-family="Liberation Sans, sans-serif" font-size="14.5" text-anchor="end">1.0</text>
<text x="346.5" y="75.02" font-family="Liberation Sans, sans-serif" font-size="14.5" text-anchor="end">1.2</text>
<text x="346.5" y="50.3" font-family="Liberation Sans, sans-serif" font-size="14.5" text-anchor="end">1.4</text>
<text x="346.5" y="25.59" font-family="Liberation Sans, sans-serif" font-size="14.5" text-anchor="end">1.6</text>
<text x="367" y="236" font-family="Liberation Sans, sans-serif" font-size="14" text-anchor="middle">200</text>
<text x="398.96" y="236" font-family="Liberation Sans, sans-serif" font-size="14" text-anchor="middle">300</text>
<text x="430.92" y="236" font-family="Liberation Sans, sans-serif" font-size="14" text-anchor="middle">400</text>
<text x="462.88" y="236" font-family="Liberation Sans, sans-serif" font-size="14" text-anchor="middle">500</text>
<text x="494.84" y="236" font-family="Liberation Sans, sans-serif" font-size="14" text-anchor="middle">600</text>
<text x="526.8" y="236" font-family="Liberation Sans, sans-serif" font-size="14" text-anchor="middle">700</text>
<text x="446.6" y="254" font-family="Liberation Sans, sans-serif" font-size="15.7" text-anchor="middle">Wavelength (nm)</text>
<text transform="translate(319.3,112.3) rotate(-90)" font-family="Liberation Sans, sans-serif" font-size="15.5" text-anchor="middle">Threshold voltage (V)</text>
<text x="356.7" y="25.6" font-family="Liberation Sans, sans-serif" font-size="16.3">(b)</text>
<text y="194.6" font-family="Liberation Sans, sans-serif" font-size="14.8"><tspan x="463.5">V</tspan><tspan x="473.2" y="198.1" font-size="10.3">DS</tspan><tspan x="491.0" y="194.6">=</tspan><tspan x="503.3">1</tspan><tspan x="516.5">V</tspan></text>
<text x="361.4" y="96.8" font-family="Liberation Sans, sans-serif" font-size="14.9">Dark</text>
<path d="M367,64.5 L392.3,70.5 L398.6,76.7 L405.3,101.6 L411.6,181.9 L414.7,194.4 L417.8,89.2 L419.4,70.7 L420.7,64.3 L424.1,61.8 L430.8,60.6 L446.8,59.4 L462.7,59.4 L494.6,59.5 L526.5,58.5" fill="none" stroke="#0000FF" stroke-width="2" stroke-linejoin="round"/>
<path d="M367.5,66 L375,77.5" stroke="#000" stroke-width="1.5"/>
<path d="M377.6,81.6 L372.4,76.6 L376.6,74.2 Z" fill="#000"/>
<path d="M367,58.5 L368.76,62.37 L372.99,62.85 L369.85,65.73 L370.7,69.9 L367,67.8 L363.3,69.9 L364.15,65.73 L361.01,62.85 L365.24,62.37Z" fill="#FF0000"/>
<circle cx="392.3" cy="70.5" r="3.5" fill="url(#g1)"/>
<circle cx="398.6" cy="76.7" r="3.5" fill="url(#g2)"/>
<circle cx="405.3" cy="101.6" r="3.5" fill="url(#g3)"/>
<circle cx="411.6" cy="181.9" r="3.5" fill="url(#g4)"/>
<circle cx="414.7" cy="194.4" r="3.5" fill="url(#g5)"/>
<circle cx="417.8" cy="89.2" r="3.5" fill="url(#g6)"/>
<circle cx="419.4" cy="70.7" r="3.5" fill="url(#g7)"/>
<circle cx="420.7" cy="64.3" r="3.5" fill="url(#g8)"/>
<circle cx="424.1" cy="61.8" r="3.5" fill="url(#g9)"/>
<circle cx="430.8" cy="60.6" r="3.5" fill="url(#g10)"/>
<circle cx="446.8" cy="59.4" r="3.5" fill="url(#g11)"/>
<circle cx="462.7" cy="59.4" r="3.5" fill="url(#g12)"/>
<circle cx="494.6" cy="59.5" r="3.5" fill="url(#g13)"/>
<circle cx="526.5" cy="58.5" r="3.5" fill="url(#g14)"/>
<defs><radialGradient id="g1" cx="0.5" cy="0.5" r="0.5" fx="0.36" fy="0.32"><stop offset="0" stop-color="#fff"/><stop offset="0.22" stop-color="#fff" stop-opacity="0.85"/><stop offset="0.42" stop-color="#11EE11"/><stop offset="0.9" stop-color="#11EE11"/><stop offset="1" stop-color="#11EE11" stop-opacity="0.85"/></radialGradient><radialGradient id="g2" cx="0.5" cy="0.5" r="0.5" fx="0.36" fy="0.32"><stop offset="0" stop-color="#fff"/><stop offset="0.22" stop-color="#fff" stop-opacity="0.85"/><stop offset="0.42" stop-color="#1414EE"/><stop offset="0.9" stop-color="#1414EE"/><stop offset="1" stop-color="#1414EE" stop-opacity="0.85"/></radialGradient><radialGradient id="g3" cx="0.5" cy="0.5" r="0.5" fx="0.36" fy="0.32"><stop offset="0" stop-color="#fff"/><stop offset="0.22" stop-color="#fff" stop-opacity="0.85"/><stop offset="0.42" stop-color="#11F0F0"/><stop offset="0.9" stop-color="#11F0F0"/><stop offset="1" stop-color="#11F0F0" stop-opacity="0.85"/></radialGradient><radialGradient id="g4" cx="0.5" cy="0.5" r="0.5" fx="0.36" fy="0.32"><stop offset="0" stop-color="#fff"/><stop offset="0.22" stop-color="#fff" stop-opacity="0.85"/><stop offset="0.42" stop-color="#FF22FF"/><stop offset="0.9" stop-color="#FF22FF"/><stop offset="1" stop-color="#FF22FF" stop-opacity="0.85"/></radialGradient><radialGradient id="g5" cx="0.5" cy="0.5" r="0.5" fx="0.36" fy="0.32"><stop offset="0" stop-color="#fff"/><stop offset="0.22" stop-color="#fff" stop-opacity="0.85"/><stop offset="0.42" stop-color="#FF0000"/><stop offset="0.9" stop-color="#FF0000"/><stop offset="1" stop-color="#FF0000" stop-opacity="0.85"/></radialGradient><radialGradient id="g6" cx="0.5" cy="0.5" r="0.5" fx="0.36" fy="0.32"><stop offset="0" stop-color="#fff"/><stop offset="0.22" stop-color="#fff" stop-opacity="0.85"/><stop offset="0.42" stop-color="#888800"/><stop offset="0.9" stop-color="#888800"/><stop offset="1" stop-color="#888800" stop-opacity="0.85"/></radialGradient><radialGradient id="g7" cx="0.5" cy="0.5" r="0.5" fx="0.36" fy="0.32"><stop offset="0" stop-color="#fff"/><stop offset="0.22" stop-color="#fff" stop-opacity="0.85"/><stop offset="0.42" stop-color="#101088"/><stop offset="0.9" stop-color="#101088"/><stop offset="1" stop-color="#101088" stop-opacity="0.85"/></radialGradient><radialGradient id="g8" cx="0.5" cy="0.5" r="0.5" fx="0.36" fy="0.32"><stop offset="0" stop-color="#fff"/><stop offset="0.22" stop-color="#fff" stop-opacity="0.85"/><stop offset="0.42" stop-color="#990099"/><stop offset="0.9" stop-color="#990099"/><stop offset="1" stop-color="#990099" stop-opacity="0.85"/></radialGradient><radialGradient id="g9" cx="0.5" cy="0.5" r="0.5" fx="0.36" fy="0.32"><stop offset="0" stop-color="#fff"/><stop offset="0.22" stop-color="#fff" stop-opacity="0.85"/><stop offset="0.42" stop-color="#A00000"/><stop offset="0.9" stop-color="#A00000"/><stop offset="1" stop-color="#A00000" stop-opacity="0.85"/></radialGradient><radialGradient id="g10" cx="0.5" cy="0.5" r="0.5" fx="0.36" fy="0.32"><stop offset="0" stop-color="#fff"/><stop offset="0.22" stop-color="#fff" stop-opacity="0.85"/><stop offset="0.42" stop-color="#008800"/><stop offset="0.9" stop-color="#008800"/><stop offset="1" stop-color="#008800" stop-opacity="0.85"/></radialGradient><radialGradient id="g11" cx="0.5" cy="0.5" r="0.5" fx="0.36" fy="0.32"><stop offset="0" stop-color="#fff"/><stop offset="0.22" stop-color="#fff" stop-opacity="0.85"/><stop offset="0.42" stop-color="#008888"/><stop offset="0.9" stop-color="#008888"/><stop offset="1" stop-color="#008888" stop-opacity="0.85"/></radialGradient><radialGradient id="g12" cx="0.5" cy="0.5" r="0.5" fx="0.36" fy="0.32"><stop offset="0" stop-color="#fff"/><stop offset="0.22" stop-color="#fff" stop-opacity="0.85"/><stop offset="0.42" stop-color="#101088"/><stop offset="0.9" stop-color="#101088"/><stop offset="1" stop-color="#101088" stop-opacity="0.85"/></radialGradient><radialGradient id="g13" cx="0.5" cy="0.5" r="0.5" fx="0.36" fy="0.32"><stop offset="0" stop-color="#fff"/><stop offset="0.22" stop-color="#fff" stop-opacity="0.85"/><stop offset="0.42" stop-color="#FF8000"/><stop offset="0.9" stop-color="#FF8000"/><stop offset="1" stop-color="#FF8000" stop-opacity="0.85"/></radialGradient><radialGradient id="g14" cx="0.5" cy="0.5" r="0.5" fx="0.36" fy="0.32"><stop offset="0" stop-color="#fff"/><stop offset="0.22" stop-color="#fff" stop-opacity="0.85"/><stop offset="0.42" stop-color="#9000F0"/><stop offset="0.9" stop-color="#9000F0"/><stop offset="1" stop-color="#9000F0" stop-opacity="0.85"/></radialGradient></defs>
<rect x="172.2" y="286.0" width="251.8" height="275.79999999999995" fill="none" stroke="#1a1a1a" stroke-width="1.8"/>
<path d="M172.2,561.8 h5 M424.0,561.8 h-5 M172.2,549.94 h3 M424.0,549.94 h-3 M172.2,543 h3 M424.0,543 h-3 M172.2,538.08 h3 M424.0,538.08 h-3 M172.2,534.26 h3 M424.0,534.26 h-3 M172.2,531.14 h3 M424.0,531.14 h-3 M172.2,528.5 h3 M424.0,528.5 h-3 M172.2,526.22 h3 M424.0,526.22 h-3 M172.2,524.2 h3 M424.0,524.2 h-3 M172.2,522.4 h5 M424.0,522.4 h-5 M172.2,510.54 h3 M424.0,510.54 h-3 M172.2,503.6 h3 M424.0,503.6 h-3 M172.2,498.68 h3 M424.0,498.68 h-3 M172.2,494.86 h3 M424.0,494.86 h-3 M172.2,491.74 h3 M424.0,491.74 h-3 M172.2,489.1 h3 M424.0,489.1 h-3 M172.2,486.82 h3 M424.0,486.82 h-3 M172.2,484.8 h3 M424.0,484.8 h-3 M172.2,483 h5 M424.0,483 h-5 M172.2,471.14 h3 M424.0,471.14 h-3 M172.2,464.2 h3 M424.0,464.2 h-3 M172.2,459.28 h3 M424.0,459.28 h-3 M172.2,455.46 h3 M424.0,455.46 h-3 M172.2,452.34 h3 M424.0,452.34 h-3 M172.2,449.7 h3 M424.0,449.7 h-3 M172.2,447.42 h3 M424.0,447.42 h-3 M172.2,445.4 h3 M424.0,445.4 h-3 M172.2,443.6 h5 M424.0,443.6 h-5 M172.2,431.74 h3 M424.0,431.74 h-3 M172.2,424.8 h3 M424.0,424.8 h-3 M172.2,419.88 h3 M424.0,419.88 h-3 M172.2,416.06 h3 M424.0,416.06 h-3 M172.2,412.94 h3 M424.0,412.94 h-3 M172.2,410.3 h3 M424.0,410.3 h-3 M172.2,408.02 h3 M424.0,408.02 h-3 M172.2,406 h3 M424.0,406 h-3 M172.2,404.2 h5 M424.0,404.2 h-5 M172.2,392.34 h3 M424.0,392.34 h-3 M172.2,385.4 h3 M424.0,385.4 h-3 M172.2,380.48 h3 M424.0,380.48 h-3 M172.2,376.66 h3 M424.0,376.66 h-3 M172.2,373.54 h3 M424.0,373.54 h-3 M172.2,370.9 h3 M424.0,370.9 h-3 M172.2,368.62 h3 M424.0,368.62 h-3 M172.2,366.6 h3 M424.0,366.6 h-3 M172.2,364.8 h5 M424.0,364.8 h-5 M172.2,352.94 h3 M424.0,352.94 h-3 M172.2,346 h3 M424.0,346 h-3 M172.2,341.08 h3 M424.0,341.08 h-3 M172.2,337.26 h3 M424.0,337.26 h-3 M172.2,334.14 h3 M424.0,334.14 h-3 M172.2,331.5 h3 M424.0,331.5 h-3 M172.2,329.22 h3 M424.0,329.22 h-3 M172.2,327.2 h3 M424.0,327.2 h-3 M172.2,325.4 h5 M424.0,325.4 h-5 M172.2,313.54 h3 M424.0,313.54 h-3 M172.2,306.6 h3 M424.0,306.6 h-3 M172.2,301.68 h3 M424.0,301.68 h-3 M172.2,297.86 h3 M424.0,297.86 h-3 M172.2,294.74 h3 M424.0,294.74 h-3 M172.2,292.1 h3 M424.0,292.1 h-3 M172.2,289.82 h3 M424.0,289.82 h-3 M172.2,287.8 h3 M424.0,287.8 h-3 M172.2,286 h5 M424.0,286 h-5 M184.1,561.8 v-5 M196.06,561.8 v-3 M208.02,561.8 v-3 M219.98,561.8 v-3 M231.94,561.8 v-3 M243.9,561.8 v-5 M255.86,561.8 v-3 M267.82,561.8 v-3 M279.78,561.8 v-3 M291.74,561.8 v-3 M303.7,561.8 v-5 M315.66,561.8 v-3 M327.62,561.8 v-3 M339.58,561.8 v-3 M351.54,561.8 v-3 M363.5,561.8 v-5 M375.46,561.8 v-3 M387.42,561.8 v-3 M399.38,561.8 v-3 M411.34,561.8 v-3" stroke="#1a1a1a" stroke-width="1.3" fill="none"/>
<text x="159.3" y="568.8" font-family="Liberation Sans, sans-serif" font-size="18.5" text-anchor="end">10</text>
<text x="159.6" y="561.1" font-family="Liberation Sans, sans-serif" font-size="12.4">1</text>
<text x="159.3" y="529.4" font-family="Liberation Sans, sans-serif" font-size="18.5" text-anchor="end">10</text>
<text x="159.6" y="521.7" font-family="Liberation Sans, sans-serif" font-size="12.4">2</text>
<text x="159.3" y="490" font-family="Liberation Sans, sans-serif" font-size="18.5" text-anchor="end">10</text>
<text x="159.6" y="482.3" font-family="Liberation Sans, sans-serif" font-size="12.4">3</text>
<text x="159.3" y="450.6" font-family="Liberation Sans, sans-serif" font-size="18.5" text-anchor="end">10</text>
<text x="159.6" y="442.9" font-family="Liberation Sans, sans-serif" font-size="12.4">4</text>
<text x="159.3" y="411.2" font-family="Liberation Sans, sans-serif" font-size="18.5" text-anchor="end">10</text>
<text x="159.6" y="403.5" font-family="Liberation Sans, sans-serif" font-size="12.4">5</text>
<text x="159.3" y="371.8" font-family="Liberation Sans, sans-serif" font-size="18.5" text-anchor="end">10</text>
<text x="159.6" y="364.1" font-family="Liberation Sans, sans-serif" font-size="12.4">6</text>
<text x="159.3" y="332.4" font-family="Liberation Sans, sans-serif" font-size="18.5" text-anchor="end">10</text>
<text x="159.6" y="324.7" font-family="Liberation Sans, sans-serif" font-size="12.4">7</text>
<text x="159.3" y="293" font-family="Liberation Sans, sans-serif" font-size="18.5" text-anchor="end">10</text>
<text x="159.6" y="285.3" font-family="Liberation Sans, sans-serif" font-size="12.4">8</text>
<text x="184.1" y="583.3" font-family="Liberation Sans, sans-serif" font-size="19" text-anchor="middle">300</text>
<text x="243.9" y="583.3" font-family="Liberation Sans, sans-serif" font-size="19" text-anchor="middle">400</text>
<text x="303.7" y="583.3" font-family="Liberation Sans, sans-serif" font-size="19" text-anchor="middle">500</text>
<text x="363.5" y="583.3" font-family="Liberation Sans, sans-serif" font-size="19" text-anchor="middle">600</text>
<text x="423.3" y="583.3" font-family="Liberation Sans, sans-serif" font-size="19" text-anchor="middle">700</text>
<text x="298.4" y="609.9" font-family="Liberation Sans, sans-serif" font-size="21.6" text-anchor="middle">λ (nm)</text>
<text transform="translate(128,423.9) rotate(-90)" font-family="Liberation Sans, sans-serif" font-size="20.8" text-anchor="middle">Responsivity (A/W)</text>
<text x="180" y="308.2" font-family="Liberation Sans, sans-serif" font-size="21.5">(c)</text>
<text y="482.9" font-family="Liberation Sans, sans-serif" font-size="16.2"><tspan x="309">V</tspan><tspan x="319.7" y="487.6" font-size="11.4">DS</tspan><tspan x="340.5" y="482.9">=</tspan><tspan x="355.0">1</tspan><tspan x="369.5">V</tspan></text>
<defs><clipPath id="cc"><rect x="172.2" y="286" width="251.8" height="275.8"/></clipPath></defs>
<g clip-path="url(#cc)">
<path d="M184.1,449.12 L202.04,447.93 L214,447.93 L219.98,455.42 L222.97,469.21 L225.96,500.73 L228.95,518.85 L231.94,536.98 L243.9,541.71 L273.8,543.28 L303.7,542.49 L363.5,540.52 L423.3,540.13" fill="none" stroke="#666" stroke-width="2.4"/>
<rect x="179.2" y="444.12" width="9.8" height="10" fill="#6e6e6e" stroke="#5a5a5a" stroke-width="0.8"/>
<rect x="197.14" y="442.93" width="9.8" height="10" fill="#6e6e6e" stroke="#5a5a5a" stroke-width="0.8"/>
<rect x="209.1" y="442.93" width="9.8" height="10" fill="#6e6e6e" stroke="#5a5a5a" stroke-width="0.8"/>
<rect x="215.08" y="450.42" width="9.8" height="10" fill="#6e6e6e" stroke="#5a5a5a" stroke-width="0.8"/>
<rect x="218.07" y="464.21" width="9.8" height="10" fill="#6e6e6e" stroke="#5a5a5a" stroke-width="0.8"/>
<rect x="221.06" y="495.73" width="9.8" height="10" fill="#6e6e6e" stroke="#5a5a5a" stroke-width="0.8"/>
<rect x="224.05" y="513.85" width="9.8" height="10" fill="#6e6e6e" stroke="#5a5a5a" stroke-width="0.8"/>
<rect x="227.04" y="531.98" width="9.8" height="10" fill="#6e6e6e" stroke="#5a5a5a" stroke-width="0.8"/>
<rect x="239" y="536.71" width="9.8" height="10" fill="#6e6e6e" stroke="#5a5a5a" stroke-width="0.8"/>
<rect x="268.9" y="538.28" width="9.8" height="10" fill="#6e6e6e" stroke="#5a5a5a" stroke-width="0.8"/>
<rect x="298.8" y="537.49" width="9.8" height="10" fill="#6e6e6e" stroke="#5a5a5a" stroke-width="0.8"/>
<rect x="358.6" y="535.52" width="9.8" height="10" fill="#6e6e6e" stroke="#5a5a5a" stroke-width="0.8"/>
<rect x="418.4" y="535.13" width="9.8" height="10" fill="#6e6e6e" stroke="#5a5a5a" stroke-width="0.8"/>
<path d="M184.1,355.54 L202.04,360.07 L214,362.44 L219.98,366.38 L222.97,376.23 L225.96,413.66 L228.95,461.72 L231.94,497.58 L243.9,507.82 L273.8,521.61 L303.7,525.16 L363.5,513.73 L423.3,499.15" fill="none" stroke="#FF3030" stroke-width="2.4"/>
<circle cx="184.1" cy="355.54" r="5.7" fill="#FF3535"/>
<circle cx="202.04" cy="360.07" r="5.7" fill="#FF3535"/>
<circle cx="214" cy="362.44" r="5.7" fill="#FF3535"/>
<circle cx="219.98" cy="366.38" r="5.7" fill="#FF3535"/>
<circle cx="222.97" cy="376.23" r="5.7" fill="#FF3535"/>
<circle cx="225.96" cy="413.66" r="5.7" fill="#FF3535"/>
<circle cx="228.95" cy="461.72" r="5.7" fill="#FF3535"/>
<circle cx="231.94" cy="497.58" r="5.7" fill="#FF3535"/>
<circle cx="243.9" cy="507.82" r="5.7" fill="#FF3535"/>
<circle cx="273.8" cy="521.61" r="5.7" fill="#FF3535"/>
<circle cx="303.7" cy="525.16" r="5.7" fill="#FF3535"/>
<circle cx="363.5" cy="513.73" r="5.7" fill="#FF3535"/>
<circle cx="423.3" cy="499.15" r="5.7" fill="#FF3535"/>
<path d="M184.1,329.36 L202.04,333.7 L214,336.06 L219.98,340.4 L222.97,350.25 L225.96,383.74 L228.95,421.95 L231.94,455.84 L243.9,474.75 L273.8,510.6 L303.7,517.3 L363.5,509.42 L423.3,501.54" fill="none" stroke="#1E6FE6" stroke-width="2.4"/>
<path d="M184.1,321.66 L190.8,333.26 L177.4,333.26 Z" fill="#1E6FE6"/>
<path d="M202.04,326 L208.74,337.6 L195.34,337.6 Z" fill="#1E6FE6"/>
<path d="M214,328.36 L220.7,339.96 L207.3,339.96 Z" fill="#1E6FE6"/>
<path d="M219.98,332.7 L226.68,344.3 L213.28,344.3 Z" fill="#1E6FE6"/>
<path d="M222.97,342.55 L229.67,354.15 L216.27,354.15 Z" fill="#1E6FE6"/>
<path d="M225.96,376.04 L232.66,387.64 L219.26,387.64 Z" fill="#1E6FE6"/>
<path d="M228.95,414.25 L235.65,425.85 L222.25,425.85 Z" fill="#1E6FE6"/>
<path d="M231.94,448.14 L238.64,459.74 L225.24,459.74 Z" fill="#1E6FE6"/>
<path d="M243.9,467.05 L250.6,478.65 L237.2,478.65 Z" fill="#1E6FE6"/>
<path d="M273.8,502.9 L280.5,514.5 L267.1,514.5 Z" fill="#1E6FE6"/>
<path d="M303.7,509.6 L310.4,521.2 L297,521.2 Z" fill="#1E6FE6"/>
<path d="M363.5,501.72 L370.2,513.32 L356.8,513.32 Z" fill="#1E6FE6"/>
<path d="M423.3,493.84 L430,505.44 L416.6,505.44 Z" fill="#1E6FE6"/>
</g>
<path d="M271.9,360.8 H310.9" stroke="#666" stroke-width="2.4"/>
<rect x="286.8" y="356.1" width="10" height="9.6" fill="#6e6e6e"/>
<path d="M271.9,385.6 H310.9" stroke="#FF3030" stroke-width="2.4"/>
<circle cx="291.3" cy="385.6" r="5.5" fill="#FF3535"/>
<path d="M271.9,410.3 H310.9" stroke="#1E6FE6" stroke-width="2.4"/>
<path d="M291.5,402.6 L297.9,414.2 L285.1,414.2 Z" fill="#1E6FE6"/>
<text y="366.9" font-family="Liberation Sans, sans-serif" font-size="16.5"><tspan x="315.6">V</tspan><tspan x="325.9" y="371.29999999999995" font-size="11">GS</tspan><tspan x="347.9" y="366.9">=</tspan><tspan x="362.1" y="366.9">−</tspan><tspan x="372.6" y="366.9">1</tspan><tspan x="386.9" y="366.9">V</tspan></text>
<text y="391.5" font-family="Liberation Sans, sans-serif" font-size="16.5"><tspan x="315.6">V</tspan><tspan x="325.9" y="395.9" font-size="11">GS</tspan><tspan x="347.7" y="391.5">=</tspan><tspan x="363.3" y="391.5">0</tspan><tspan x="376.1" y="391.5">V</tspan></text>
<text y="416.1" font-family="Liberation Sans, sans-serif" font-size="16.5"><tspan x="315.6">V</tspan><tspan x="325.9" y="420.5" font-size="11">GS</tspan><tspan x="347.7" y="416.1">=</tspan><tspan x="362.9" y="416.1">1</tspan><tspan x="375.6" y="416.1">V</tspan></text>
</svg></body></html>
